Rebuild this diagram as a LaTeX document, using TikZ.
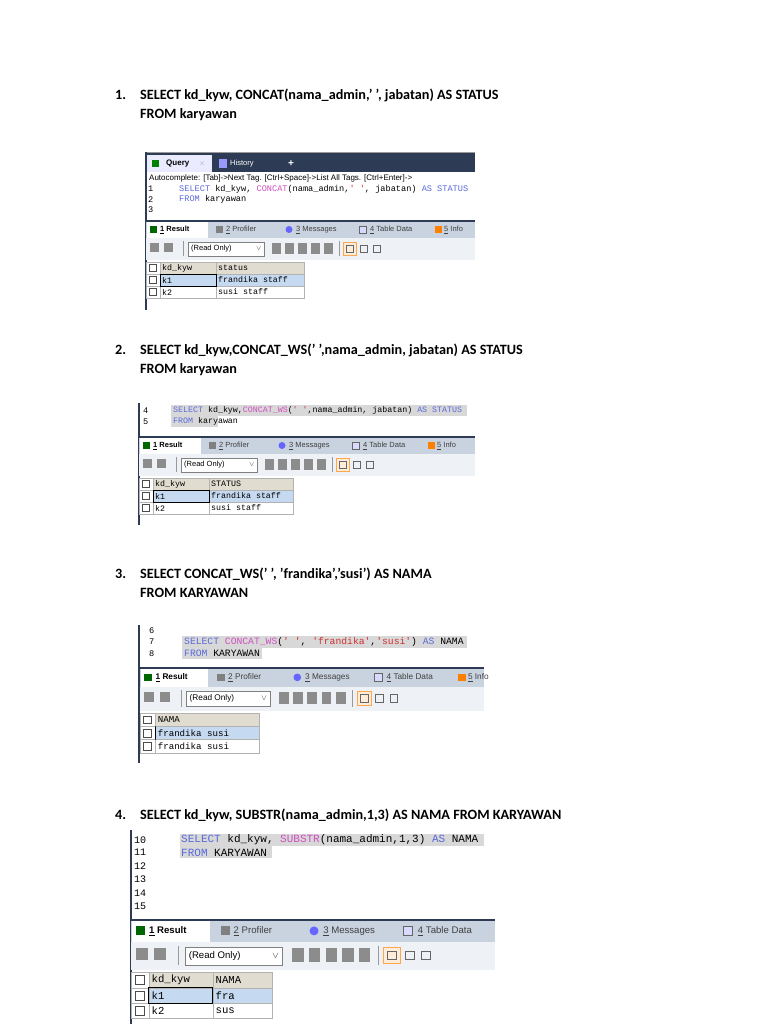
\documentclass[tikz,border=0pt]{standalone}
\usepackage{fontspec}
\setmainfont{Carlito}
\setsansfont{Liberation Sans}
\setmonofont{Liberation Mono}
\definecolor{bar}{HTML}{C9D3E0}
\definecolor{bartop}{HTML}{2D3B55}
\definecolor{tool}{HTML}{EEF1F5}
\definecolor{hdr}{HTML}{E0DDD0}
\definecolor{sel}{HTML}{C5D9F1}
\definecolor{kw}{HTML}{5A6AD8}
\definecolor{fn}{HTML}{D050C0}
\definecolor{str}{HTML}{D03030}
\definecolor{hl}{HTML}{D8D8D8}
\tikzset{
  head/.style={anchor=base west,font=\fontsize{14.2}{16}\selectfont\bfseries,inner sep=0},
  tabt/.style={anchor=west,font=\sffamily\fontsize{7.5}{8}\selectfont,inner sep=0,text=black!75},
  cell/.style={anchor=west,font=\ttfamily\fontsize{8.3}{9}\selectfont,inner sep=0},
  code/.style={anchor=west,font=\ttfamily\fontsize{8.6}{9}\selectfont,inner sep=0},
}
\newcommand\ResPanel[9]{%
\begin{scope}[shift={(#1,#2)},scale=#3,transform shape]
 \fill[bar] (0,0) rectangle (#4,17);
 \draw[bartop,line width=1.5] (0,0) -- (#4,0);
 \fill[white] (1,1) rectangle (62,17);
 \fill[green!40!black] (4,5) rectangle (11,12);
 \node[tabt,font=\sffamily\bfseries\fontsize{7.5}{8}\selectfont,text=black] (rt) at (14,9) {\underline{1} Result};
 \fill[black!50] (70,5) rectangle (77,12);
 \node[tabt] (pt) at (80,9) {\underline{2} Profiler};
 \fill[blue!60] (143,8.5) circle (3.5);
 \node[tabt] (mt) at (150,9) {\underline{3} Messages};
 \draw[black!60,fill=blue!15] (213,5) rectangle (220,12);
 \node[tabt] (tt) at (224,9) {\underline{4} Table Data};
 \ifdim #4pt>300pt \fill[orange] (289,5) rectangle (296,12); \node[tabt] (it) at (298,9) {\underline{5} Info}; \fi
 \fill[tool] (0,17) rectangle (#4,39);
 \fill[black!45] (4,22) rectangle (13,31);
 \fill[black!45] (18,22) rectangle (27,31);
 \draw[black!40] (37,20) -- (37,35);
 \draw[black!50,fill=white] (42,21) rectangle (118,35);
 \node[tabt,text=black] (ro) at (45,28) {(Read Only)};
 \node[tabt] (dd) at (110,28) {$\vee$};
 \foreach \i in {0,1,2,3,4}{\fill[black!45] (126+\i*13,22) rectangle (135+\i*13,33);}
 \draw[black!40] (193,20) -- (193,35);
 \draw[orange!70,fill=orange!15] (197,21) rectangle (210,34);
 \draw[black!60] (200,24) rectangle (207,31);
 \draw[black!60] (214,24) rectangle (221,31);
 \draw[black!60] (227,24) rectangle (234,31);
 \def\xa{14}\def\xb{\xa+#5}\def\xc{\xa+#5+#6}
 \fill[hdr] (\xa,41) rectangle ({\xc},53);
 \fill[sel] (\xa,53) rectangle ({\xc},65);
 \draw[black!30] (0,41) rectangle ({\xc},77) (\xa,41) -- (\xa,77) ({\xb},41) -- ({\xb},77) (0,53) -- ({\xc},53) (0,65) -- ({\xc},65);
 \foreach \yy in {47,59,71}{\draw[black!70,fill=white] (3,\yy-3.5) rectangle (10,\yy+3.5);}
 \draw[black,line width=1] (\xa,53) rectangle ({\xb},65);
 #9
 \node[cell] (h1) at (\xa+2,47) {#7};
 \node[cell] (h2) at ({\xb+2},47) {#8};
\end{scope}}
\begin{document}
\begin{tikzpicture}[x=1pt,y=-1pt]
\useasboundingbox[fill=white] (0,0) rectangle (768,1024);
\node[head] (n1) at (115,100) {1.};
\node[head] (t1) at (140,100) {SELECT kd\_kyw, CONCAT(nama\_admin,' ', jabatan) AS STATUS};
\node[head] (t1b) at (140,119) {FROM karyawan};
\node[head] (n2) at (115,354) {2.};
\node[head] (t2) at (140,354) {SELECT kd\_kyw,CONCAT\_WS(' ',nama\_admin, jabatan) AS STATUS};
\node[head] (t2b) at (140,373) {FROM karyawan};
\node[head] (n3) at (115,578) {3.};
\node[head] (t3) at (140,578) {SELECT CONCAT\_WS(' ', 'frandika','susi') AS NAMA};
\node[head] (t3b) at (140,597) {FROM KARYAWAN};
\node[head] (n4) at (115,819) {4.};
\node[head] (t4) at (140,819) {SELECT kd\_kyw, SUBSTR(nama\_admin,1,3) AS NAMA FROM KARYAWAN};

% ---------- panel 1
\draw[black!40] (145,152) -- (475,152);
\fill[bartop] (145,153) rectangle (475,172);
\fill[white!92!blue] (146,155) rectangle (212,172);
\node[tabt,text=black,font=\sffamily\bfseries\fontsize{8}{9}\selectfont] (q) at (166,163.5) {Query};
\fill[green!50!black] (152,160) rectangle (159,167);
\node[tabt,text=black!40] (qx) at (199,163.5) {$\times$};
\node[tabt,text=white] (hi) at (230,163.5) {History};
\fill[blue!40] (219,159) rectangle (227,168);
\node[tabt,text=white,font=\sffamily\bfseries\fontsize{10}{10}\selectfont] (pl) at (288,163.5) {+};
\fill[white] (145,172) rectangle (475,218);
\begin{scope}
\clip (145,172) rectangle (475,218);
\node[tabt,text=black,font=\sffamily\fontsize{8}{8}\selectfont] (ac) at (149,178) {Autocomplete: [Tab]->Next Tag. [Ctrl+Space]->List All Tags. [Ctrl+Enter]->};
\end{scope}
\node[code] (l1) at (148,189) {1};
\node[code] (l2) at (148,199.5) {2};
\node[code] (l3) at (148,210) {3};
\node[code] (c1) at (179,189) {\textcolor{kw}{SELECT} kd\_kyw, \textcolor{fn}{CONCAT}(nama\_admin,\textcolor{str}{' '}, jabatan) \textcolor{kw}{AS} \textcolor{kw}{STATUS}};
\node[code] (c1b) at (179,199.5) {\textcolor{kw}{FROM} karyawan};
\draw[bartop,line width=2] (146,152) -- (146,310);
\ResPanel{146}{221}{1}{329}{56}{88}{kd\_kyw}{status}{%
 \node[cell] at (16,59) {k1}; \node[cell] at (72,59) {frandika staff};
 \node[cell] at (16,71) {k2}; \node[cell] at (72,71) {susi staff};}

% ---------- panel 2
\fill[white] (139,403) rectangle (475,435);
\fill[hl] (171,405) rectangle (467,416);
\fill[hl] (171,416) rectangle (218,427);
\node[code] (m4) at (143,410.5) {4};
\node[code] (m5) at (143,421.5) {5};
\node[code,font=\ttfamily\fontsize{8.3}{9}\selectfont] (d1) at (173,410.5) {\textcolor{kw}{SELECT} kd\_kyw,\textcolor{fn}{CONCAT\_WS}(\textcolor{str}{' '},nama\_admin, jabatan) \textcolor{kw}{AS} \textcolor{kw}{STATUS}};
\node[code,font=\ttfamily\fontsize{8.3}{9}\selectfont] (d1b) at (173,421.5) {\textcolor{kw}{FROM} karyawan};
\draw[bartop,line width=2] (139,403) -- (139,525);
\ResPanel{139}{437}{1}{336}{56}{84}{kd\_kyw}{STATUS}{%
 \node[cell] at (16,59) {k1}; \node[cell] at (72,59) {frandika staff};
 \node[cell] at (16,71) {k2}; \node[cell] at (72,71) {susi staff};}

% ---------- panel 3
\fill[white] (139,625) rectangle (485,666);
\fill[hl] (182,636) rectangle (467,648);
\fill[hl] (182,648) rectangle (262,659);
\node[code] (o6) at (149,631) {6};
\node[code] (o7) at (149,642) {7};
\node[code] (o8) at (149,653.5) {8};
\node[code,font=\ttfamily\fontsize{9.7}{10}\selectfont] (e1) at (184,642) {\textcolor{kw}{SELECT} \textcolor{fn}{CONCAT\_WS}(\textcolor{str}{' '}, \textcolor{str}{'frandika'},\textcolor{str}{'susi'}) \textcolor{kw}{AS} NAMA};
\node[code,font=\ttfamily\fontsize{9.7}{10}\selectfont] (e1b) at (184,653.5) {\textcolor{kw}{FROM} KARYAWAN};
\draw[bartop,line width=2] (139,625) -- (139,763);
\ResPanel{140}{668}{1.1}{313}{0}{94}{}{NAMA}{%
 \node[cell] at (16,59) {frandika susi};
 \node[cell] at (16,71) {frandika susi};}

% ---------- panel 4
\fill[white] (131,830) rectangle (493,915);
\fill[hl] (180,834) rectangle (484,846);
\fill[hl] (180,846) rectangle (272,858);
\foreach \n/\yy in {10/840,11/852.5,12/866,13/879.5,14/893,15/906.5}{\node[code,font=\ttfamily\fontsize{10}{10}\selectfont] at (134,\yy) {\n};}
\node[code,font=\ttfamily\fontsize{11}{12}\selectfont] (f1) at (181,840) {\textcolor{kw}{SELECT} kd\_kyw, \textcolor{fn}{SUBSTR}(nama\_admin,1,3) \textcolor{kw}{AS} NAMA};
\node[code,font=\ttfamily\fontsize{11}{12}\selectfont] (f1b) at (181,852.5) {\textcolor{kw}{FROM} KARYAWAN};
\draw[bartop,line width=2] (131,830) -- (131,1024);
\ResPanel{131}{920}{1.28}{284}{50}{46}{kd\_kyw}{NAMA}{%
 \node[cell] at (16,59) {k1}; \node[cell] at (66,59) {fra};
 \node[cell] at (16,71) {k2}; \node[cell] at (66,71) {sus};}
\end{tikzpicture}
\end{document}
